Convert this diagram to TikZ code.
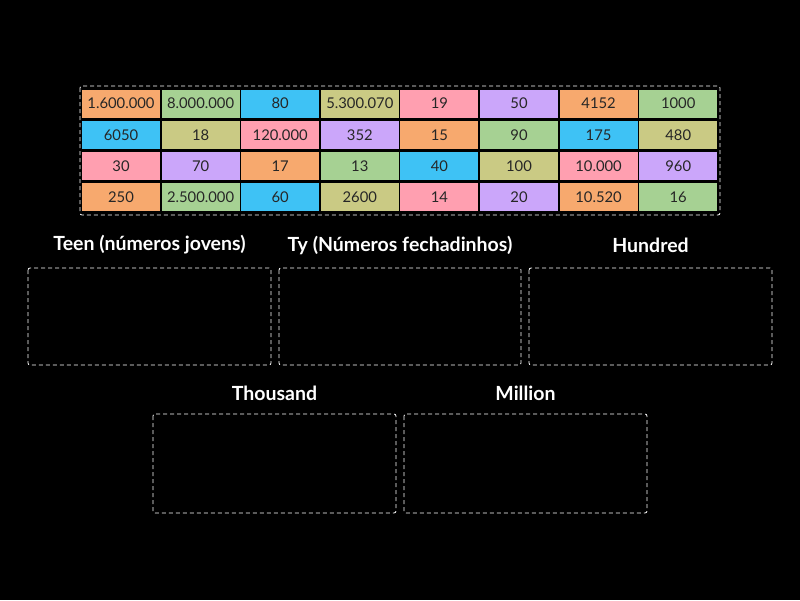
\documentclass[tikz,border=0pt]{standalone}
\usepackage{fontspec}
\setmainfont{Lato}
\begin{document}
\begin{tikzpicture}[x=1pt,y=-1pt,
  cell/.style={minimum width=78pt,minimum height=28pt,inner sep=0pt,font=\fontsize{14.8}{16}\selectfont,text=black!85},
  bin/.style={draw=white,dash pattern=on 4pt off 3pt,line width=0.8pt,rounded corners=2pt},
  ttl/.style={text=white,font=\bfseries\fontsize{19.5}{22}\selectfont}]
\definecolor{c0}{HTML}{F7A96E}\definecolor{c1}{HTML}{A6D193}
\definecolor{c2}{HTML}{3EC2F5}\definecolor{c3}{HTML}{CACA84}
\definecolor{c4}{HTML}{FF9FB0}\definecolor{c5}{HTML}{CBA6FA}
\fill[black] (0,0) rectangle (800,600);
\useasboundingbox (0,0) rectangle (800,600);
\draw[bin] (80,86) rectangle (720,215);
\foreach \r/\vals in {0/{1.600.000,8.000.000,80,5.300.070,19,50,4152,1000},
                      1/{6050,18,120.000,352,15,90,175,480},
                      2/{30,70,17,13,40,100,10.000,960},
                      3/{250,2.500.000,60,2600,14,20,10.520,16}}{
  \foreach \v [count=\c from 0] in \vals {
    \pgfmathtruncatemacro\k{mod(\c+2*\r,6)}
    \node[cell,fill=c\k] (n\r\c) at ({121+79.6*\c},{103.5+31.3*\r}) {\v};
  }
}
\draw[bin] (28,268) rectangle (271,365);
\draw[bin] (279,268) rectangle (521,365);
\draw[bin] (529,268) rectangle (772,365);
\draw[bin] (153,414) rectangle (396,513);
\draw[bin] (404,414) rectangle (647,513);
\node[ttl] (t1) at (149.5,245) {Teen (números jovens)};
\node[ttl] (t2) at (400,245) {Ty (Números fechadinhos)};
\node[ttl] (t3) at (650.5,245) {Hundred};
\node[ttl] (t4) at (274.5,393) {Thousand};
\node[ttl] (t5) at (525.5,393) {Million};
\end{tikzpicture}
\end{document}
